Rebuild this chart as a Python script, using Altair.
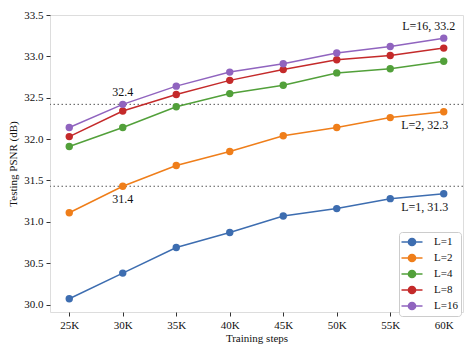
import altair as alt
import pandas as pd

steps = [25, 30, 35, 40, 45, 50, 55, 60]
series_names = ["L=1", "L=2", "L=4", "L=8", "L=16"]
psnr_L1 = [30.07, 30.38, 30.69, 30.87, 31.07, 31.16, 31.28, 31.34]
psnr_L2 = [31.11, 31.43, 31.68, 31.85, 32.04, 32.14, 32.26, 32.33]
psnr_L4 = [31.91, 32.14, 32.39, 32.55, 32.65, 32.80, 32.85, 32.94]
psnr_L8 = [32.03, 32.34, 32.54, 32.71, 32.84, 32.96, 33.01, 33.10]
psnr_L16 = [32.14, 32.42, 32.64, 32.81, 32.91, 33.04, 33.12, 33.22]
colors = ["#3d6db0", "#ef7e1a", "#52a03a", "#c42a2a", "#9064bf"]
ref_lines = [32.42, 31.43]
y_ticks = [30.0, 30.5, 31.0, 31.5, 32.0, 32.5, 33.0, 33.5]

ann_text = ["32.4", "31.4", "L=16, 33.2", "L=2, 32.3", "L=1, 31.3"]
ann_x = [30, 30, 60, 60, 60]
ann_y = [32.42, 31.43, 33.22, 32.33, 31.34]
ann_dx = [0, 0, -15, -19, -19]
ann_dy = [-12, 13, -12, 13, 13]

all_series = [psnr_L1, psnr_L2, psnr_L4, psnr_L8, psnr_L16]
rows = []
for name, vals in zip(series_names, all_series):
    for s, v in zip(steps, vals):
        rows.append({"step": s, "psnr": v, "series": name})
df = pd.DataFrame(rows)

FONT = "'Liberation Serif', 'Times New Roman', serif"
xscale = alt.Scale(domain=[23.2, 61.8], nice=False, zero=False)
yscale = alt.Scale(domain=[29.91, 33.5], nice=False, zero=False)

sym_path = "M-1.75,0L1.75,0M-0.6,0A0.6,0.6,0,1,0,0.6,0A0.6,0.6,0,1,0,-0.6,0Z"

color = alt.Color(
    "series:N",
    scale=alt.Scale(domain=series_names, range=colors),
    sort=series_names,
    legend=alt.Legend(
        title=None,
        orient="none",
        legendX=349,
        legendY=217,
        fillColor="white",
        strokeColor="#cccccc",
        cornerRadius=3,
        padding=3,
        labelFont=FONT,
        labelFontSize=11,
        labelColor="#111",
        symbolType=sym_path,
        symbolSize=144,
        symbolStrokeWidth=1.5,
        symbolOffset=3,
        rowPadding=2,
        labelOffset=15,
    ),
)

base = alt.Chart(df)
x_enc = alt.X(
    "step:Q",
    scale=xscale,
    axis=alt.Axis(
        title="Training steps",
        values=steps,
        labelExpr="datum.value + 'K'",
        grid=False,
        domain=False,
        tickSize=4,
        tickColor="#333",
        labelFont=FONT,
        labelFontSize=11,
        labelColor="#111",
        titleFont=FONT,
        titleFontSize=11,
        titleFontWeight="normal",
        titleColor="#111",
        labelPadding=3,
        titlePadding=2,
    ),
)
y_enc = alt.Y(
    "psnr:Q",
    scale=yscale,
    axis=alt.Axis(
        title="Testing PSNR (dB)",
        values=y_ticks,
        format=".1f",
        grid=False,
        domain=False,
        tickSize=4,
        tickColor="#333",
        labelFont=FONT,
        labelFontSize=11,
        labelColor="#111",
        titleFont=FONT,
        titleFontSize=11,
        titleFontWeight="normal",
        titleColor="#111",
        labelPadding=3,
        titlePadding=5,
    ),
)

lines = base.mark_line(strokeWidth=1.5).encode(x=x_enc, y=y_enc, color=color)
points = base.mark_point(filled=True, size=55, opacity=1).encode(x=x_enc, y=y_enc, color=color)

ref_df = pd.DataFrame({"y": ref_lines})
rules = alt.Chart(ref_df).mark_rule(color="#555", strokeDash=[1.5, 2.5], strokeWidth=1).encode(
    y=alt.Y("y:Q", scale=yscale)
)

ann_df = pd.DataFrame({"text": ann_text, "x": ann_x, "y": ann_y, "dx": ann_dx, "dy": ann_dy})
ann_layers = []
for i in range(len(ann_text)):
    ann_layers.append(
        alt.Chart(ann_df.iloc[[i]]).mark_text(
            font=FONT, fontSize=12, color="#111", dx=ann_dx[i], dy=ann_dy[i], baseline="middle", align="center"
        ).encode(x=alt.X("x:Q", scale=xscale), y=alt.Y("y:Q", scale=yscale), text="text:N")
    )

chart = alt.layer(rules, lines, points, *ann_layers).properties(
    width=413,
    height=297,
    autosize=alt.AutoSizeParams(type="none"),
    padding={"left": 42, "top": 7, "right": 3, "bottom": 35},
).configure_view(stroke="#444", strokeWidth=1).configure(background="white", font=FONT)

chart.save("out.html", embed_options={"renderer": "svg", "actions": False})
